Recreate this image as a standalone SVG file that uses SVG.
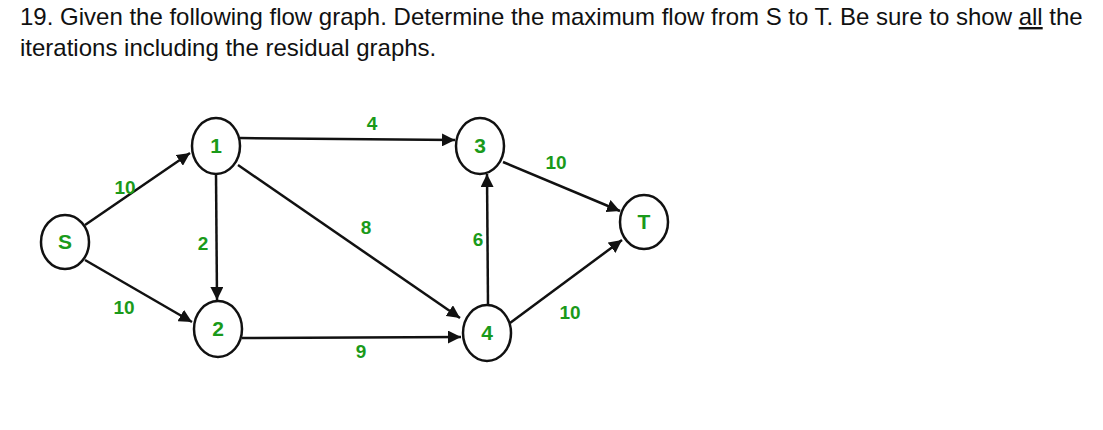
<svg xmlns="http://www.w3.org/2000/svg" width="1103" height="430" viewBox="0 0 1103 430">
<style>
.t{font-family:"Liberation Sans",Arial,sans-serif;font-size:24px;fill:#111}
.n ellipse{fill:#fff;stroke:#111;stroke-width:2.5}
.n text{font-family:"Liberation Sans",Arial,sans-serif;font-weight:bold;font-size:21px;fill:#1a9a1a;text-anchor:middle}
.l{font-family:"Liberation Sans",Arial,sans-serif;font-weight:bold;font-size:19px;fill:#1a9a1a;text-anchor:middle}
#edges line{stroke:#111;stroke-width:2.5;marker-end:url(#a)}
</style>
<defs><marker id="a" viewBox="0 0 10 10" refX="10" refY="5" markerWidth="13" markerHeight="13" orient="auto" markerUnits="userSpaceOnUse"><path d="M0,0L10,5L0,10z" fill="#111"/></marker></defs>
<text class="t" x="20" y="25">19.  Given the following flow graph. Determine the maximum flow from S to T. Be sure to show <tspan text-decoration="underline">all</tspan> the</text>
<text class="t" x="20" y="56">iterations including the residual graphs.</text>
<g id="edges">
<line x1="85" y1="225" x2="190" y2="153"/>
<line x1="85" y1="260" x2="192" y2="322"/>
<line x1="216" y1="174" x2="217" y2="300"/>
<line x1="240" y1="138" x2="455" y2="140"/>
<line x1="238" y1="165" x2="460" y2="318"/>
<line x1="242" y1="338" x2="461" y2="337"/>
<line x1="488" y1="305" x2="487" y2="174"/>
<line x1="503" y1="162" x2="620" y2="211"/>
<line x1="510" y1="323" x2="622" y2="240"/>
</g>
<text class="l" x="125" y="194">10</text>
<text class="l" x="124" y="314">10</text>
<text class="l" x="203" y="250">2</text>
<text class="l" x="372" y="130">4</text>
<text class="l" x="366" y="234">8</text>
<text class="l" x="478" y="246">6</text>
<text class="l" x="556" y="169">10</text>
<text class="l" x="570" y="319">10</text>
<text class="l" x="361" y="358">9</text>
<g id="S" class="n"><ellipse cx="65" cy="242" rx="24" ry="27"/><text x="65" y="249">S</text></g>
<g id="n1" class="n"><ellipse cx="216" cy="146" rx="24" ry="28"/><text x="216" y="153">1</text></g>
<g id="n2" class="n"><ellipse cx="218" cy="329" rx="24" ry="28"/><text x="218" y="336">2</text></g>
<g id="n3" class="n"><ellipse cx="480" cy="146" rx="24" ry="28"/><text x="480" y="153">3</text></g>
<g id="n4" class="n"><ellipse cx="487" cy="333" rx="24" ry="28"/><text x="487" y="340">4</text></g>
<g id="T" class="n"><ellipse cx="644" cy="222" rx="24" ry="27"/><text x="644" y="229">T</text></g>
</svg>
